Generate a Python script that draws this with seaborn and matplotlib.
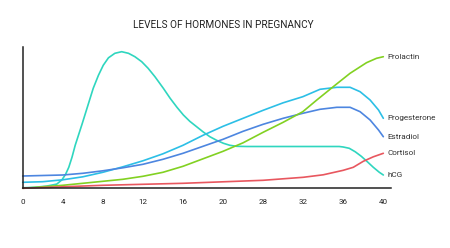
import matplotlib
matplotlib.use("Agg")
import matplotlib.pyplot as plt
import seaborn as sns
import pandas as pd

# Tick labels (weeks of pregnancy) shown at evenly spaced positions
week_labels = ["0", "4", "8", "12", "16", "20", "28", "32", "36", "40"]
tick_pos = list(range(len(week_labels)))

# Curve points, x in tick-position units, y in relative level units
hcg_x = [0, 0.3, 0.6, 0.85, 0.98, 1.07, 1.15, 1.23, 1.31, 1.48, 1.62, 1.76, 1.89, 2.01, 2.14,
         2.3, 2.47, 2.64, 2.8, 2.97, 3.13, 3.3, 3.51, 3.68, 3.85, 4.01, 4.17, 4.34, 4.5,
         4.67, 4.84, 5.01, 5.17, 5.34, 5.6, 7.9, 8.0, 8.15, 8.3, 8.45, 8.6, 8.75, 8.9, 9.0]
hcg_y = [0.5, 1, 2.2, 4.2, 8.5, 14, 21, 31, 43, 64, 82, 100, 113, 123, 130.5,
         135, 136.6, 135, 131.6, 126.6, 120, 111.6, 100, 90, 81, 73.3, 67, 61.6, 56.5,
         51.6, 48, 45, 43, 42, 41.8, 41.8, 41.3, 40, 36.5, 32, 26.6, 21, 16, 13.3]

prog_x = [0, 0.5, 1, 1.5, 2, 2.5, 3, 3.5, 4, 4.5, 5, 5.5, 6, 6.5, 6.99, 7.42, 7.84, 8.17,
          8.42, 8.67, 8.88, 9.0]
prog_y = [6, 6.6, 8.5, 11.5, 16, 21.5, 27.5, 34.5, 43, 53, 62, 70, 78, 85.5, 91.6, 99, 101,
          101, 96.6, 88.3, 78.3, 70]

estr_x = [0, 0.5, 1, 1.5, 2, 2.5, 3, 3.5, 4, 4.5, 5, 5.5, 6, 6.5, 6.99, 7.42, 7.84, 8.17,
          8.42, 8.67, 8.88, 9.0]
estr_y = [12.3, 12.8, 13.3, 15, 17.5, 20.5, 24, 29, 35, 42, 49, 57, 64, 70, 75, 79, 81, 81,
          76.6, 68.3, 58.3, 51.6]

prol_x = [0, 0.5, 1, 1.5, 2, 2.5, 3, 3.5, 4, 4.5, 5, 5.5, 6, 6.5, 6.99, 7.34, 7.75, 8.17,
          8.58, 8.83, 9.0]
prol_y = [0, 1.5, 3, 5, 7, 9, 12, 16, 22, 29.5, 37, 45.5, 56, 66, 76.6, 88.3, 101.6, 115,
          125.6, 130, 131.6]

cort_x = [0, 1, 2, 3, 4, 5, 6, 7, 7.5, 8, 8.25, 8.5, 8.75, 9]
cort_y = [0, 1.5, 3, 4, 5, 6.5, 8, 11, 13.5, 18, 21, 27, 31.5, 35]

series_names = ["hCG", "Progesterone", "Estradiol", "Prolactin", "Cortisol"]
series_colors = ["#2fd6bf", "#2cbfe6", "#4d86e0", "#82d122", "#e8575f"]
label_order = ["Prolactin", "Progesterone", "Estradiol", "Cortisol", "hCG"]

frames = []
for name, xs, ys in [("hCG", hcg_x, hcg_y), ("Progesterone", prog_x, prog_y),
                     ("Estradiol", estr_x, estr_y), ("Prolactin", prol_x, prol_y),
                     ("Cortisol", cort_x, cort_y)]:
    frames.append(pd.DataFrame({"pos": xs, "level": ys, "hormone": name}))
df = pd.concat(frames, ignore_index=True)

sns.set_theme(style="white")
plt.rcParams["font.family"] = ["Roboto", "DejaVu Sans"]

fig = plt.figure(figsize=(4.5, 2.48), dpi=100)
ax = fig.add_axes([22.7 / 450, (248 - 188.3) / 248, (390.7 - 22.7) / 450, 141 / 248])

palette = dict(zip(series_names, series_colors))
for name in series_names:
    sub = df[df["hormone"] == name]
    sns.lineplot(data=sub, x="pos", y="level", color=palette[name], linewidth=1.2,
                 ax=ax, sort=False, estimator=None, legend=False, clip_on=False)
for line in ax.get_lines():
    line.set_solid_joinstyle("round")
    line.set_solid_capstyle("round")

ax.set_xlim(0, 9.184)
ax.set_ylim(0, 141)
ax.set_xticks(tick_pos)
ax.set_xticklabels(week_labels, fontsize=5.8, color="#222222")
ax.set_yticks([])
ax.set_xlabel("")
ax.set_ylabel("")
ax.tick_params(axis="x", length=0, pad=7.5)
for side in ["top", "right"]:
    ax.spines[side].set_visible(False)
for side in ["left", "bottom"]:
    ax.spines[side].set_color("#222222")
    ax.spines[side].set_linewidth(1.1)

ends = {"hCG": hcg_y[-1], "Progesterone": prog_y[-1], "Estradiol": estr_y[-1],
        "Prolactin": prol_y[-1], "Cortisol": cort_y[-1]}
for name in label_order:
    ax.text(9.11, ends[name], name, fontsize=5.9, color="#333333",
            ha="left", va="center", clip_on=False)

fig.text(223.8 / 450, 1 - 25 / 248, "LEVELS OF HORMONES IN PREGNANCY",
         ha="center", va="center", fontsize=7.2, color="#222222")

fig.savefig("out.png", dpi=100, facecolor="white")
